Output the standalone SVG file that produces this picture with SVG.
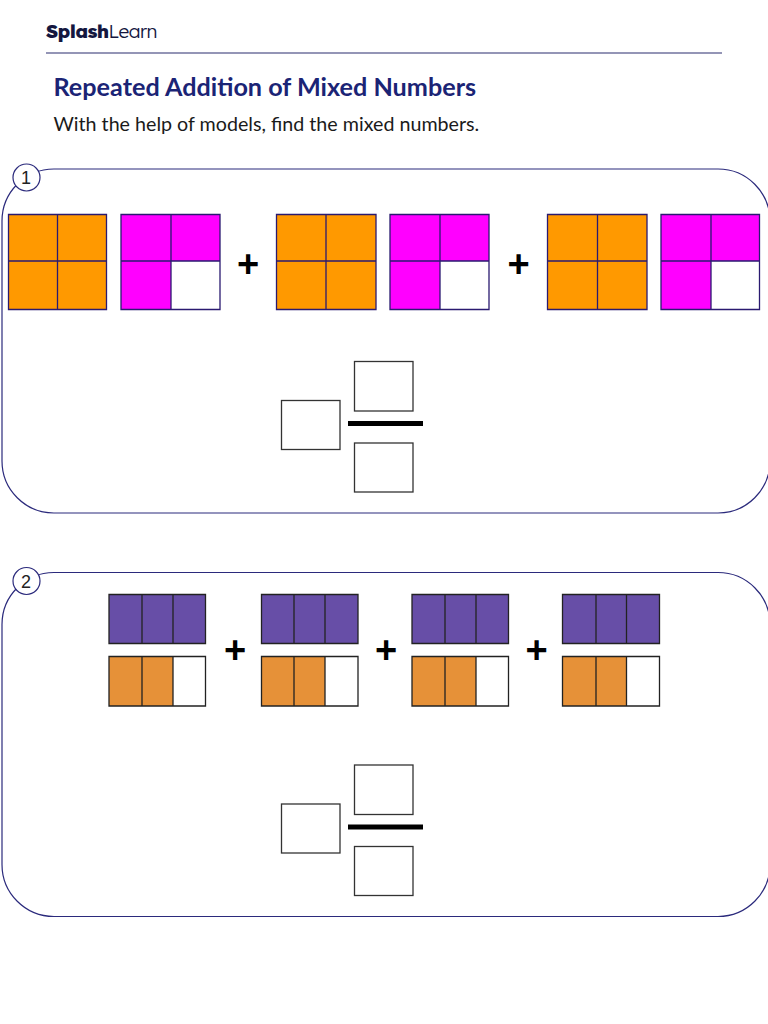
<svg xmlns="http://www.w3.org/2000/svg" width="768" height="1024" viewBox="0 0 768 1024">
<style>
.frame{fill:none;stroke:#2b2a7c;stroke-width:1.2}
.badge{fill:#fff;stroke:#2b2a7c;stroke-width:1.2}
.num{font:18px "Liberation Sans",Arial,sans-serif;fill:#222;text-anchor:middle}
.plus{font:bold 38px "Liberation Sans",Arial,sans-serif;fill:#000;text-anchor:middle}
.l{stroke:#2a1a70;stroke-width:1.3;fill:none}
.o{fill:#ff9900}.m{fill:#ff00ff}.p{fill:#674ea7}.a{fill:#e69138}.w{fill:#fff}
.b{fill:#fff;stroke:#333;stroke-width:1.3}
.d{stroke:#222;stroke-width:1.3;fill:none}
.bar{fill:#000}
</style>
<rect width="768" height="1024" fill="#fff"/>
<g id="header">
<text x="46" y="38" font-family="Lexend,Inter,'Noto Sans',sans-serif" font-size="19" fill="#14173f" letter-spacing="-0.5"><tspan font-weight="800">Splash</tspan><tspan font-weight="300">Learn</tspan></text>
<line x1="46" y1="53" x2="722" y2="53" stroke="#2a2d6e" stroke-width="1.2"/>
<text x="53.500" y="96" font-family="Lato,sans-serif" font-weight="700" font-size="25.200" fill="#1b2475">Repeated Addition of Mixed Numbers</text>
<text x="53.500" y="131" font-family="Lato,sans-serif" font-size="19.680" fill="#1a1a1a">With the help of models, find the mixed numbers.</text>
</g>
<g id="problem-1">
<rect class="frame" x="2" y="169" width="768" height="344" rx="52" ry="52"/>
<g id="badge-1"><circle class="badge" cx="26.500" cy="177.500" r="13.500"/><text class="num" x="26" y="184">1</text></g>
<g id="model-1a"><rect class="o" x="8.500" y="214.500" width="98" height="95"/><path class="l" d="M8.500 214.500H106.500V309.500H8.500ZM57.500 214.500V309.500M8.500 261H106.500"/></g>
<g id="model-1b"><rect class="m" x="121" y="214.500" width="99" height="46.500"/><rect class="m" x="121" y="261" width="50" height="48.500"/><path class="l" d="M121 214.500H220V309.500H121ZM171 214.500V309.500M121 261H220"/></g>
<text class="plus" x="248" y="277">+</text>
<g id="model-1c"><rect class="o" x="276.500" y="214.500" width="99.500" height="95"/><path class="l" d="M276.500 214.500H376V309.500H276.500ZM326 214.500V309.500M276.500 261H376"/></g>
<g id="model-1d"><rect class="m" x="390" y="214.500" width="99" height="46.500"/><rect class="m" x="390" y="261" width="50" height="48.500"/><path class="l" d="M390 214.500H489V309.500H390ZM440 214.500V309.500M390 261H489"/></g>
<text class="plus" x="518.500" y="277">+</text>
<g id="model-1e"><rect class="o" x="547.500" y="214.500" width="99.500" height="95"/><path class="l" d="M547.500 214.500H647V309.500H547.500ZM597.500 214.500V309.500M547.500 261H647"/></g>
<g id="model-1f"><rect class="m" x="661" y="214.500" width="98.500" height="46.500"/><rect class="m" x="661" y="261" width="50" height="48.500"/><path class="l" d="M661 214.500H759.500V309.500H661ZM711 214.500V309.500M661 261H759.500"/></g>
<g id="answer-1">
<rect class="b" x="281.500" y="400.500" width="58.500" height="49"/>
<rect class="b" x="354.500" y="361.500" width="58.500" height="49.500"/>
<rect class="bar" x="348" y="421" width="75" height="5"/>
<rect class="b" x="354.500" y="443" width="58.500" height="49"/>
</g>
</g>
<g id="problem-2">
<rect class="frame" x="2" y="572.500" width="768" height="344" rx="52" ry="52"/>
<g id="badge-2"><circle class="badge" cx="26.500" cy="581" r="13.500"/><text class="num" x="26" y="587.500">2</text></g>
<g id="model-2a"><rect class="p" x="109" y="594.500" width="96.500" height="49"/><rect class="a" x="109" y="656.500" width="64" height="49.500"/><path class="d" d="M109 594.500H205.500V643.500H109ZM142 594.500V643.500M173 594.500V643.500M109 656.500H205.500V706H109ZM142 656.500V706M173 656.500V706"/></g>
<text class="plus" x="235" y="663">+</text>
<g id="model-2b"><rect class="p" x="261.500" y="594.500" width="96.500" height="49"/><rect class="a" x="261.500" y="656.500" width="63.500" height="49.500"/><path class="d" d="M261.500 594.500H358V643.500H261.500ZM294 594.500V643.500M325 594.500V643.500M261.500 656.500H358V706H261.500ZM294 656.500V706M325 656.500V706"/></g>
<text class="plus" x="386" y="663">+</text>
<g id="model-2c"><rect class="p" x="412" y="594.500" width="96.500" height="49"/><rect class="a" x="412" y="656.500" width="64" height="49.500"/><path class="d" d="M412 594.500H508.500V643.500H412ZM445 594.500V643.500M476 594.500V643.500M412 656.500H508.500V706H412ZM445 656.500V706M476 656.500V706"/></g>
<text class="plus" x="536.500" y="663">+</text>
<g id="model-2d"><rect class="p" x="562.500" y="594.500" width="97" height="49"/><rect class="a" x="562.500" y="656.500" width="64" height="49.500"/><path class="d" d="M562.500 594.500H659.500V643.500H562.500ZM596 594.500V643.500M626.500 594.500V643.500M562.500 656.500H659.500V706H562.500ZM596 656.500V706M626.500 656.500V706"/></g>
<g id="answer-2">
<rect class="b" x="281.500" y="804" width="58.500" height="49"/>
<rect class="b" x="354.500" y="765" width="58.500" height="49.500"/>
<rect class="bar" x="348" y="824.500" width="75" height="5"/>
<rect class="b" x="354.500" y="846.500" width="58.500" height="49"/>
</g>
</g>
</svg>
